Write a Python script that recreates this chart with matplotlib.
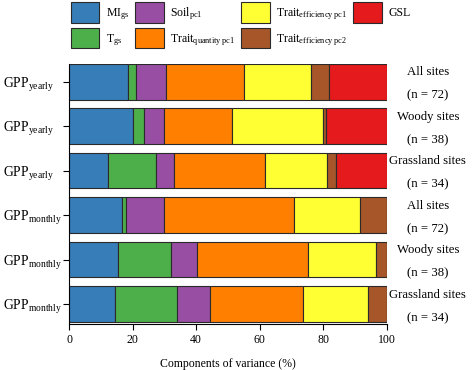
import matplotlib
matplotlib.use("Agg")
import matplotlib.pyplot as plt
import numpy as np

plt.rcParams["font.family"] = "Liberation Serif"
plt.rcParams["mathtext.fontset"] = "custom"
plt.rcParams["mathtext.rm"] = "Liberation Serif"
plt.rcParams["mathtext.it"] = "Liberation Serif:italic"

# rows top to bottom
row_labels = [r"GPP$_{\mathrm{yearly}}$"] * 3 + [r"GPP$_{\mathrm{monthly}}$"] * 3
site_labels = ["All sites", "Woody sites", "Grassland sites"] * 2
n_labels = ["(n = 72)", "(n = 38)", "(n = 34)"] * 2

components = [r"MI$_{\mathrm{gs}}$", r"T$_{\mathrm{gs}}$", r"Soil$_{\mathrm{pc1}}$",
              r"Trait$_{\mathrm{quantity\ pc1}}$", r"Trait$_{\mathrm{efficiency\ pc1}}$",
              r"Trait$_{\mathrm{efficiency\ pc2}}$", "GSL"]
colors = ["#377eb8", "#4daf4a", "#984ea3", "#ff7f00", "#ffff33", "#a65628", "#e41a1c"]

# variance share (%) per component, one entry per row
mi_gs = [18.6, 20.1, 12.4, 16.8, 15.5, 14.5]
t_gs = [2.6, 3.6, 14.8, 1.2, 16.5, 19.3]
soil_pc1 = [9.3, 6.2, 5.8, 12.0, 8.1, 10.4]
quantity_pc1 = [24.4, 21.2, 28.6, 40.6, 34.9, 29.5]
efficiency_pc1 = [21.2, 28.8, 19.6, 20.8, 21.6, 20.4]
efficiency_pc2 = [5.6, 1.0, 2.9, 8.6, 3.4, 5.9]
gsl = [18.3, 19.1, 15.9, 0.0, 0.0, 0.0]

series = [mi_gs, t_gs, soil_pc1, quantity_pc1, efficiency_pc1, efficiency_pc2, gsl]

fig = plt.figure(figsize=(4.74, 3.70), dpi=100)
ax = fig.add_axes([0.1456, 0.1243, 0.671, 0.7027])

y = np.arange(len(row_labels))
left = np.zeros(len(row_labels))
handles = []
for vals, col, lab in zip(series, colors, components):
    vals = np.array(vals)
    h = ax.barh(y, vals, left=left, height=0.8, color=col, edgecolor="#2a2a2a",
                linewidth=0.8, label=lab)
    handles.append(h)
    left += vals

ax.set_xlim(0, 100)
ax.set_ylim(5.45, -0.4)
ax.set_yticks(y)
ax.set_yticklabels(row_labels, fontsize=9.8, ha="left")
ax.tick_params(axis="y", pad=43.5, length=4)
ax.set_xticks([0, 20, 40, 60, 80, 100])
ax.tick_params(axis="x", labelsize=8.5, length=4)
ax.set_xlabel("Components of variance (%)", fontsize=8.5, labelpad=8)
for s in ["top", "right"]:
    ax.spines[s].set_visible(False)

for i in range(len(row_labels)):
    ax.text(1.128, i - 0.21, site_labels[i], transform=ax.get_yaxis_transform(),
            ha="center", va="center", fontsize=9.2)
    ax.text(1.128, i + 0.31, n_labels[i], transform=ax.get_yaxis_transform(),
            ha="center", va="center", fontsize=9.2)

fig.legend(handles=handles, loc="upper left", bbox_to_anchor=(71 / 474, 1 - 2 / 370),
           ncol=4, frameon=False, fontsize=8.5, handlelength=2.4, handleheight=2.3,
           handletextpad=0.55, columnspacing=0.5, labelspacing=0.45, borderpad=0,
           borderaxespad=0)

fig.savefig("out.png", dpi=100)
